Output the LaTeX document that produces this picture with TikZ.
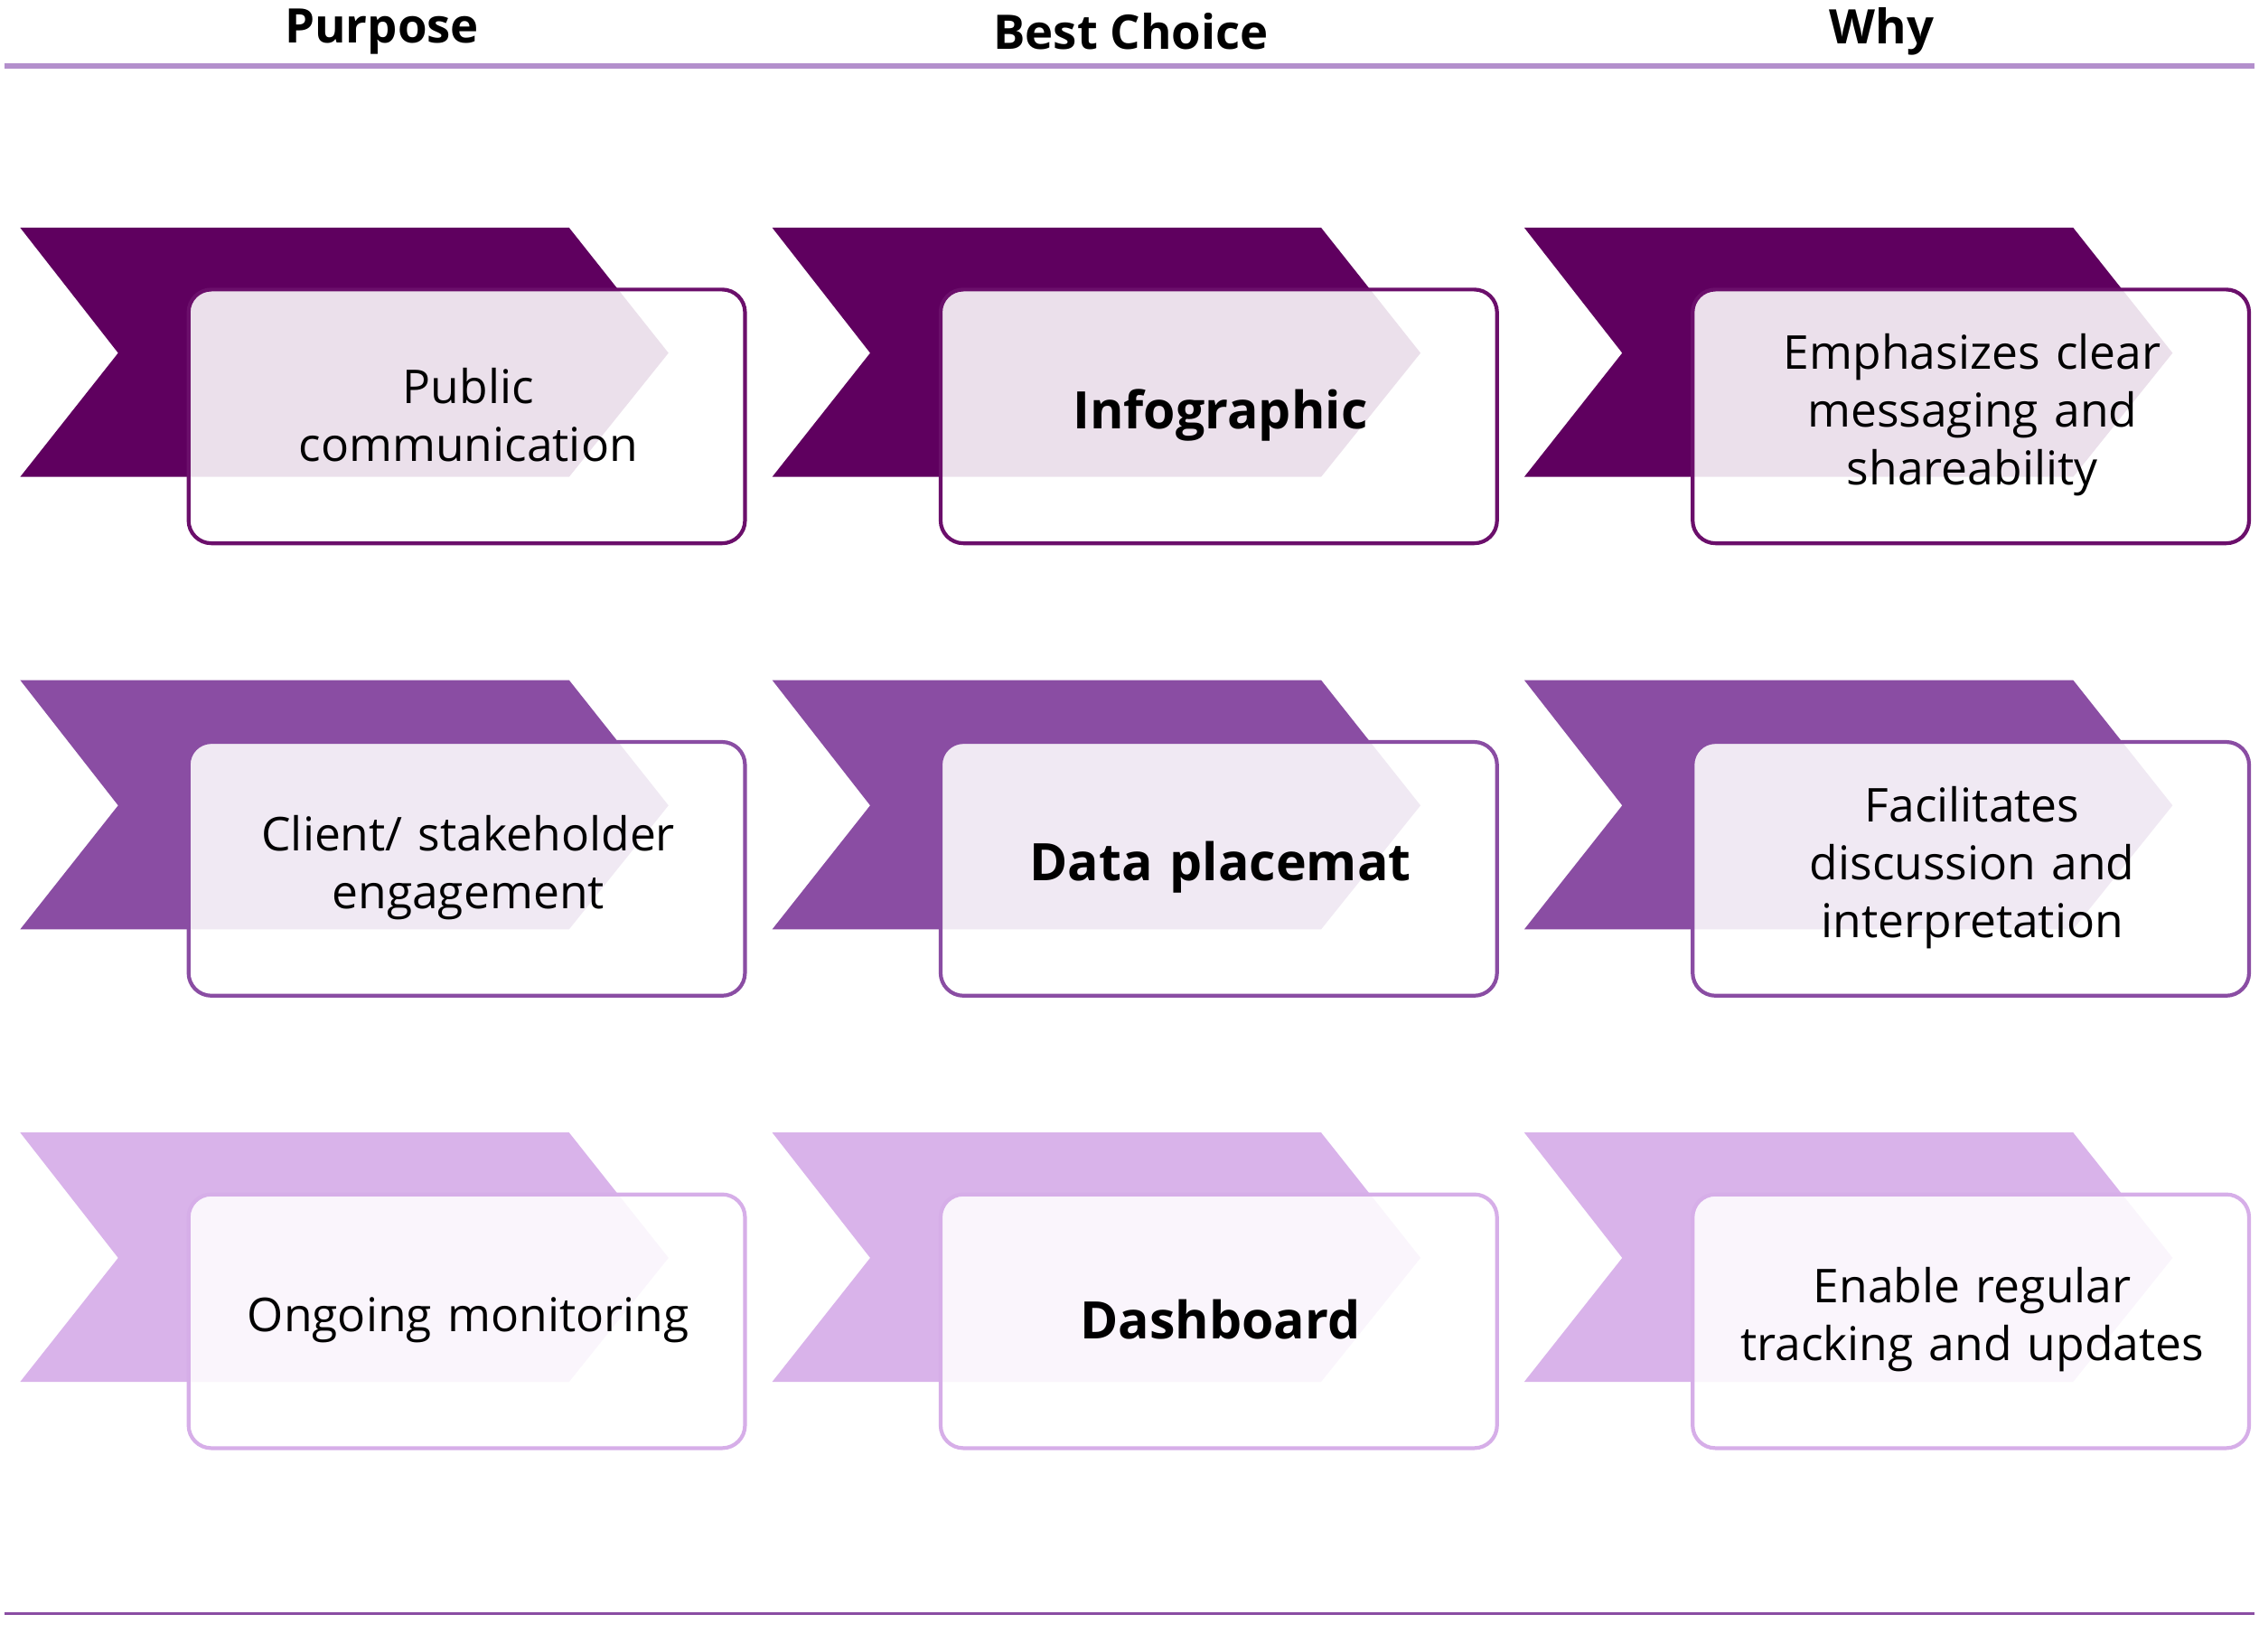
\documentclass[tikz,border=0pt]{standalone}
\usepackage{fontspec}
\setmainfont{Open Sans}
\begin{document}
\begin{tikzpicture}[x=0.01cm,y=-0.01cm,
  chev/.style={fill=#1,draw=none},
  box/.style={draw=#1,line width=0.75pt,rounded corners=4.5pt,fill=white,fill opacity=0.88,text opacity=1},
  txt/.style={align=center,font=\fontsize{9.2pt}{11.4pt}\selectfont,text width=3.6cm},
  btxt/.style={txt,font=\fontsize{10.2pt}{12pt}\selectfont\bfseries},
  hdr/.style={font=\fontsize{9.4pt}{11pt}\selectfont\bfseries}]
\definecolor{c1}{HTML}{5F005F}
\definecolor{c2}{HTML}{8A4DA3}
\definecolor{c3}{HTML}{D9B3EA}
\definecolor{b1}{HTML}{6B0F6B}
\definecolor{b3}{HTML}{D6AEE8}
\definecolor{hl}{HTML}{B38FCC}
\useasboundingbox (0,0) rectangle (1568,1146);
\node[hdr] (h1) at (265,22) {Purpose};
\node[hdr] (h2) at (785,22) {Best Choice};
\node[hdr] (h3) at (1306,22) {Why};
\draw[hl,line width=1.1pt] (3,46) -- (1565,46);
\draw[c2,line width=0.6pt] (3,1120) -- (1565,1120);
\newcommand{\mycell}[6]{%
 \begin{scope}[shift={(#1*522,#2*314)}]
  \fill[c#3] (14,158) -- (395,158) -- (464,245) -- (395,331) -- (14,331) -- (82,245) -- cycle;
  \node[box=#4,minimum width=3.86cm,minimum height=1.76cm,anchor=center] (n#1#2) at (324,289) {};
  \node[#6] (t#1#2) at (325,288) {#5};
 \end{scope}}
\mycell{0}{0}{1}{b1}{Public\\communication}{txt}
\mycell{1}{0}{1}{b1}{Infographic}{btxt}
\mycell{2}{0}{1}{b1}{Emphasizes clear\\messaging and\\shareability}{txt}
\mycell{0}{1}{2}{c2}{Client/ stakeholder\\engagement}{txt}
\mycell{1}{1}{2}{c2}{Data placemat}{btxt}
\mycell{2}{1}{2}{c2}{Facilitates\\discussion and\\interpretation}{txt}
\mycell{0}{2}{3}{b3}{Ongoing monitoring}{txt}
\mycell{1}{2}{3}{b3}{Dashboard}{btxt}
\mycell{2}{2}{3}{b3}{Enable regular\\tracking and updates}{txt}
\end{tikzpicture}
\end{document}
